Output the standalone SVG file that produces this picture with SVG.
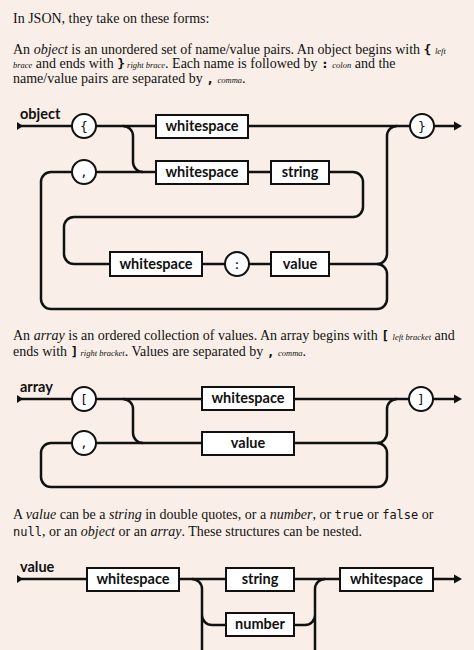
<svg xmlns="http://www.w3.org/2000/svg" width="474" height="650" viewBox="0 0 474 650">
<defs>
<style>
.bg{fill:#f9efe8}
.p{font-family:"Liberation Serif",serif;font-size:14px;fill:#111}
.i{font-style:italic}
.s{font-style:italic;font-size:8.5px}
.m{font-family:"DejaVu Sans Mono",monospace;font-weight:bold;font-size:13px}
.mr{font-family:"DejaVu Sans Mono",monospace;font-size:12px}
.ln{fill:none;stroke:#111;stroke-width:2.5}
.box{fill:#fff;stroke:#111;stroke-width:2}
.ci{fill:#fff;stroke:#111;stroke-width:2}
.t{font-family:"Lato",sans-serif;font-weight:bold;font-size:14.5px;fill:#111;text-anchor:middle}
.ct{font-family:"DejaVu Sans Mono",monospace;font-size:13px;fill:#111;text-anchor:middle}
.lb{font-family:"Lato",sans-serif;font-weight:bold;font-size:14.5px;fill:#111}
.ah{fill:#111}
</style>
</defs>
<rect class="bg" x="0" y="0" width="474" height="650"/>

<g id="text-object">
<text class="p" x="13" y="23">In JSON, they take on these forms:</text>
<text class="p" x="13" y="54">An <tspan class="i">object</tspan> is an unordered set of name/value pairs. An object begins with <tspan class="m">{</tspan> <tspan class="s">left</tspan></text>
<text class="p" x="13" y="68"><tspan class="s">brace</tspan>  and ends with <tspan class="m">}</tspan><tspan class="s"> right brace</tspan>. Each name is followed by <tspan class="m">:</tspan> <tspan class="s">colon</tspan> and the</text>
<text class="p" x="13" y="83">name/value pairs are separated by <tspan class="m">,</tspan> <tspan class="s">comma</tspan>.</text>
</g>

<g id="connectors">
<!-- object -->
<path class="ln" d="M18 126 H72 M96 126 H156 M248 126 H410 M434 126 H455"/>
<path class="ln" d="M123 126 A10 10 0 0 1 133 136 V162 A10 10 0 0 0 143 172"/>
<path class="ln" d="M96 172 H156 M248 172 H271"/>
<path class="ln" d="M329 172 H353 A10 10 0 0 1 363 182 V207 A10 10 0 0 1 353 217 H74 A10 10 0 0 0 64 227 V254 A10 10 0 0 0 74 264 H110"/>
<path class="ln" d="M202 264 H225 M249 264 H271"/>
<path class="ln" d="M329 264 H377 A10 10 0 0 0 387 254 V136 A10 10 0 0 1 397 126"/>
<path class="ln" d="M377 264 A10 10 0 0 1 387 274 V299 A10 10 0 0 1 377 309 H51 A10 10 0 0 1 41 299 V182 A10 10 0 0 1 51 172 H72"/>
<polygon class="ah" points="17,122 17,130 23,126"/>
<polygon class="ah" points="454,121.5 462,126 454,130.5"/>
<!-- array -->
<path class="ln" d="M18 399 H72 M96 399 H202 M294 399 H409 M433 399 H455"/>
<path class="ln" d="M123 399 A10 10 0 0 1 133 409 V433 A10 10 0 0 0 143 443"/>
<path class="ln" d="M96 443 H202"/>
<path class="ln" d="M294 443 H377 A10 10 0 0 0 387 433 V409 A10 10 0 0 1 397 399"/>
<path class="ln" d="M377 443 A10 10 0 0 1 387 453 V477 A10 10 0 0 1 377 487 H51 A10 10 0 0 1 41 477 V453 A10 10 0 0 1 51 443 H72"/>
<polygon class="ah" points="17,395 17,403 23,399"/>
<polygon class="ah" points="454,394.5 462,399 454,403.5"/>
<!-- value -->
<path class="ln" d="M18 579 H87 M179 579 H226 M294 579 H340 M433 579 H455"/>
<path class="ln" d="M192 579 A10 10 0 0 1 202 589 V650 M202 615 A10 10 0 0 0 212 625 H226"/>
<path class="ln" d="M315 650 V589 A10 10 0 0 1 325 579 M294 625 H305 A10 10 0 0 0 315 615"/>
<polygon class="ah" points="17,575 17,583 23,579"/>
<polygon class="ah" points="454,574.5 462,579 454,583.5"/>
</g>

<g id="object-diagram">
<text class="lb" x="20" y="119">object</text>
<g id="obj-lbrace"><circle class="ci" cx="84" cy="126" r="12"/><text class="ct" x="84" y="130.5">{</text></g>
<g id="obj-ws1"><rect class="box" x="156" y="115" width="92" height="23"/><text class="t" x="202" y="131">whitespace</text></g>
<g id="obj-rbrace"><circle class="ci" cx="422" cy="126" r="12"/><text class="ct" x="422" y="130.5">}</text></g>
<g id="obj-comma"><circle class="ci" cx="84" cy="172" r="12"/><text class="ct" x="84" y="176">,</text></g>
<g id="obj-ws2"><rect class="box" x="156" y="161" width="92" height="23"/><text class="t" x="202" y="177">whitespace</text></g>
<g id="obj-string"><rect class="box" x="271" y="161" width="58" height="23"/><text class="t" x="300" y="177">string</text></g>
<g id="obj-ws3"><rect class="box" x="110" y="252" width="92" height="24"/><text class="t" x="156" y="269">whitespace</text></g>
<g id="obj-colon"><circle class="ci" cx="237" cy="264" r="12"/><text class="ct" x="237" y="268.5">:</text></g>
<g id="obj-value"><rect class="box" x="271" y="252" width="58" height="24"/><text class="t" x="300" y="269">value</text></g>
</g>

<g id="text-array">
<text class="p" x="13" y="340">An <tspan class="i">array</tspan> is an ordered collection of values. An array begins with <tspan class="m">[</tspan> <tspan class="s">left bracket</tspan> and</text>
<text class="p" x="13" y="356">ends with <tspan class="m">]</tspan><tspan class="s"> right bracket</tspan>. Values are separated by <tspan class="m">,</tspan> <tspan class="s">comma</tspan>.</text>
</g>

<g id="array-diagram">
<text class="lb" x="20" y="392">array</text>
<g id="arr-lbracket"><circle class="ci" cx="84" cy="399" r="12"/><text class="ct" x="84" y="403.5">[</text></g>
<g id="arr-ws"><rect class="box" x="202" y="387" width="92" height="23"/><text class="t" x="248" y="403">whitespace</text></g>
<g id="arr-rbracket"><circle class="ci" cx="421" cy="399" r="12"/><text class="ct" x="421" y="403.5">]</text></g>
<g id="arr-comma"><circle class="ci" cx="84" cy="443" r="12"/><text class="ct" x="84" y="447">,</text></g>
<g id="arr-value"><rect class="box" x="202" y="432" width="92" height="23"/><text class="t" x="248" y="448">value</text></g>
</g>

<g id="text-value">
<text class="p" x="13" y="519">A <tspan class="i">value</tspan> can be a <tspan class="i">string</tspan> in double quotes, or a <tspan class="i">number</tspan>, or <tspan class="mr">true</tspan> or <tspan class="mr">false</tspan> or</text>
<text class="p" x="13" y="536"><tspan class="mr">null</tspan>, or an <tspan class="i">object</tspan> or an <tspan class="i">array</tspan>. These structures can be nested.</text>
</g>

<g id="value-diagram">
<text class="lb" x="20" y="572">value</text>
<g id="val-ws1"><rect class="box" x="87" y="568" width="92" height="23"/><text class="t" x="133" y="584">whitespace</text></g>
<g id="val-string"><rect class="box" x="226" y="568" width="68" height="23"/><text class="t" x="260" y="584">string</text></g>
<g id="val-ws2"><rect class="box" x="340" y="568" width="93" height="23"/><text class="t" x="386.5" y="584">whitespace</text></g>
<g id="val-number"><rect class="box" x="226" y="613" width="68" height="23"/><text class="t" x="260" y="629">number</text></g>
</g>
</svg>
